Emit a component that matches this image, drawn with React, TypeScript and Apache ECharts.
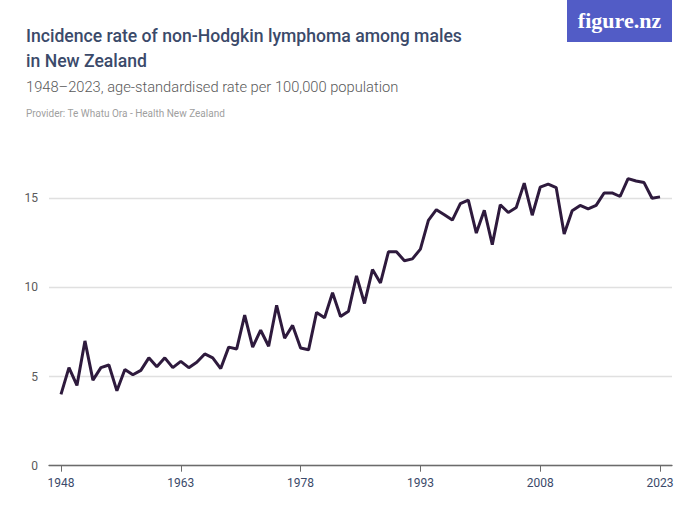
import React, { useEffect, useRef } from "react";
import * as echarts from "echarts";

const years: number[] = [];
for (let y = 1948; y <= 2023; y++) years.push(y);

const rates = [
  4.0, 5.5, 4.5, 7.0, 4.8, 5.5, 5.65, 4.2, 5.4, 5.1,
  5.35, 6.05, 5.55, 6.05, 5.5, 5.85, 5.5, 5.8, 6.27, 6.05,
  5.45, 6.65, 6.55, 8.45, 6.65, 7.6, 6.7, 9.0, 7.15, 7.87,
  6.6, 6.5, 8.6, 8.3, 9.7, 8.37, 8.67, 10.65, 9.1, 11.0,
  10.25, 12.0, 12.0, 11.5, 11.6, 12.15, 13.76, 14.36, 14.08, 13.78,
  14.7, 14.9, 13.05, 14.33, 12.4, 14.64, 14.2, 14.48, 15.85, 14.05,
  15.62, 15.8, 15.6, 13.0, 14.3, 14.6, 14.4, 14.6, 15.3, 15.3,
  15.1, 16.1, 15.97, 15.88, 15.0, 15.08,
];

const xTicks = [1948, 1963, 1978, 1993, 2008, 2023];
const yTicks = [0, 5, 10, 15];

const titleLines = [
  "Incidence rate of non-Hodgkin lymphoma among males",
  "in New Zealand",
];
const subtitle = "1948–2023, age-standardised rate per 100,000 population";
const provider = "Provider: Te Whatu Ora - Health New Zealand";

export default function App() {
  const ref = useRef<HTMLDivElement>(null);
  useEffect(() => {
    document.body.style.margin = "0";
    if (!ref.current) return;
    const chart = echarts.init(ref.current, undefined, { renderer: "svg" });
    const font = "Roboto, 'Noto Sans', sans-serif";
    chart.setOption({
      animation: false,
      backgroundColor: "#ffffff",
      graphic: [
        {
          type: "text",
          left: 26,
          top: 27,
          style: {
            text: titleLines[0],
            fill: "#3b4a6a",
            font: `500 17.6px ${font}`,
          },
        },
        {
          type: "text",
          left: 26,
          top: 52,
          style: {
            text: titleLines[1],
            fill: "#3b4a6a",
            font: `500 17.6px ${font}`,
          },
        },
        {
          type: "text",
          left: 26,
          top: 79,
          style: {
            text: subtitle,
            fill: "#5a5a5a",
            font: `300 14.7px ${font}`,
          },
        },
        {
          type: "text",
          left: 26,
          top: 108,
          style: {
            text: provider,
            fill: "#a0a0a0",
            font: `400 10px ${font}`,
          },
        },
        {
          type: "rect",
          shape: { x: 567, y: 0, width: 105, height: 42 },
          style: { fill: "#525cc6" },
        },
        {
          type: "text",
          x: 619.5,
          y: 20,
          style: {
            text: "figure.nz",
            fill: "#ffffff",
            font: "bold 22px 'Liberation Serif', 'DejaVu Serif', serif",
            align: "center",
            verticalAlign: "middle",
          },
        },
      ],
      grid: { left: 49, right: 28, top: 144.8, bottom: 59.3, containLabel: false },
      xAxis: {
        type: "value",
        min: 1946.5,
        max: 2024.5,
        axisLine: { show: true, lineStyle: { color: "#6b6b6b", width: 1.3 } },
        axisTick: {
          show: true,
          customValues: xTicks,
          length: 6,
          lineStyle: { color: "#6b6b6b", width: 1 },
        },
        axisLabel: {
          customValues: xTicks,
          color: "#3b4a6a",
          fontFamily: font,
          fontSize: 12,
          margin: 11,
          formatter: (v: number) => String(v),
        },
        splitLine: { show: false },
      },
      yAxis: {
        type: "value",
        min: 0,
        max: 18,
        axisLine: { show: false },
        axisTick: { show: false, customValues: yTicks },
        axisLabel: {
          customValues: yTicks,
          color: "#5a5a5a",
          fontFamily: font,
          fontSize: 12,
          margin: 11,
        },
        splitLine: { show: true, lineStyle: { color: "#e0e0e0", width: 1.3 } },
      },
      series: [
        {
          type: "line",
          data: years.map((y, i) => [y, rates[i]]),
          showSymbol: false,
          lineStyle: { color: "#2e1a3d", width: 3 },
          itemStyle: { color: "#2e1a3d" },
          z: 3,
        },
      ],
    });
    return () => chart.dispose();
  }, []);
  return <div ref={ref} style={{ width: 700, height: 525 }} />;
}
